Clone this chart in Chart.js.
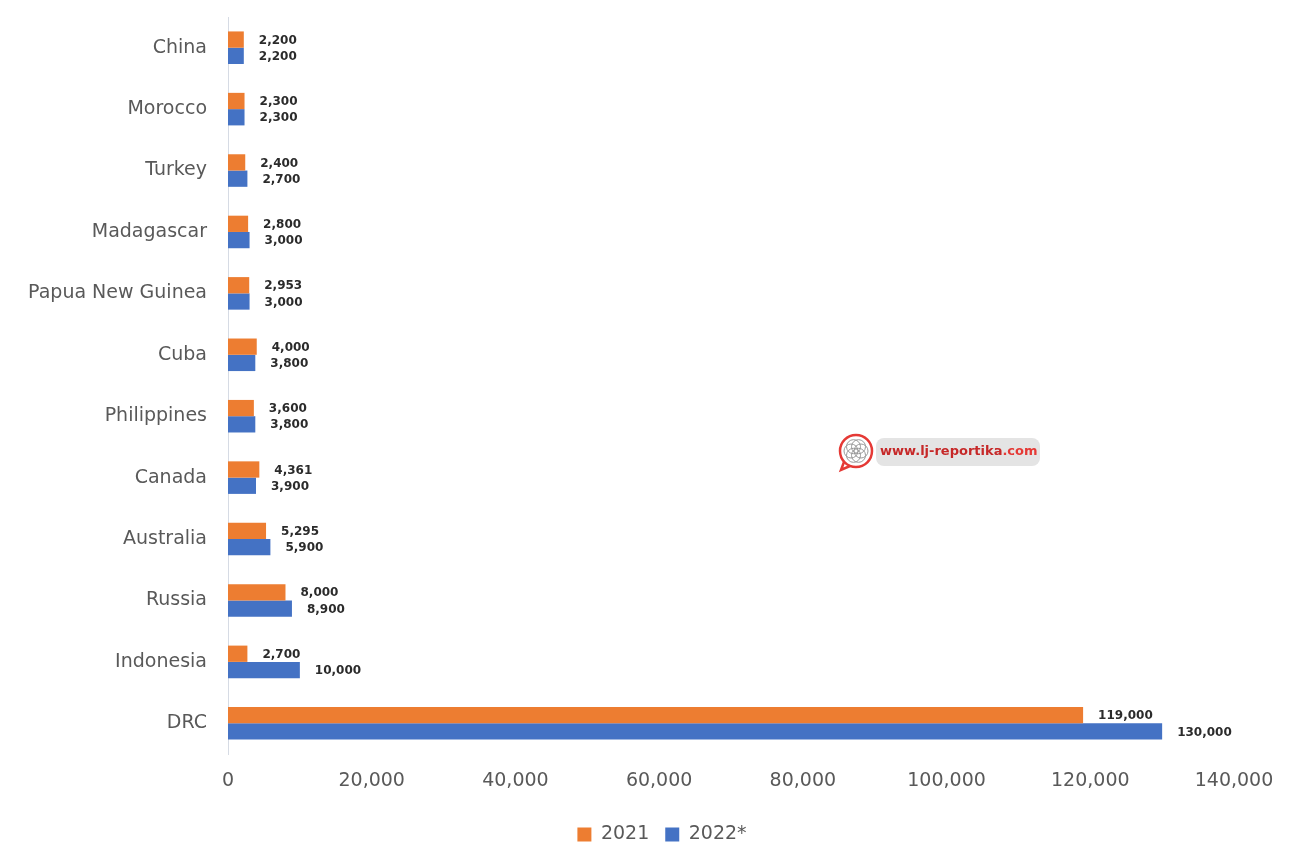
<!DOCTYPE html>
<html>
<head>
<meta charset="utf-8">
<title>Cobalt production by country</title>
<script src="https://cdn.jsdelivr.net/npm/chart.js@4.4.1/dist/chart.umd.min.js"></script>
<style>
  html, body { margin: 0; padding: 0; background: #fff; }
  #wrap { width: 1308px; height: 868px; }
</style>
</head>
<body>
<div id="wrap"><canvas id="chart" width="1308" height="868"></canvas></div>
<script>
// — data —
const countries = ['China', 'Morocco', 'Turkey', 'Madagascar', 'Papua New Guinea', 'Cuba',
                   'Philippines', 'Canada', 'Australia', 'Russia', 'Indonesia', 'DRC'];
const values2021 = [2200, 2300, 2400, 2800, 2953, 4000, 3600, 4361, 5295, 8000, 2700, 119000];
const values2022 = [2200, 2300, 2700, 3000, 3000, 3800, 3800, 3900, 5900, 8900, 10000, 130000];
const seriesNames = ['2021', '2022*'];
const xTicks = [0, 20000, 40000, 60000, 80000, 100000, 120000, 140000];

const ORANGE = '#ED7D31';
const BLUE   = '#4472C4';
const fmt = v => Number(v).toLocaleString('en-US');

// — value labels next to bar ends —
const valueLabels = {
  id: 'valueLabels',
  afterDatasetsDraw(chart) {
    const ctx = chart.ctx;
    ctx.save();
    ctx.font = 'bold 12px "DejaVu Sans"';
    ctx.fillStyle = '#2b2b2b';
    ctx.textAlign = 'left';
    ctx.textBaseline = 'middle';
    chart.data.datasets.forEach((ds, i) => {
      chart.getDatasetMeta(i).data.forEach((bar, j) => {
        ctx.fillText(fmt(ds.data[j]), bar.x + 15, bar.y + 1);
      });
    });
    ctx.restore();
  }
};

// — nudge legend right so it sits under the plot, not the whole canvas —
const legendShift = {
  id: 'legendShift',
  afterLayout(chart) {
    const lg = chart.legend;
    if (!lg) return;
    lg.left += 45;
    lg.right += 45;
  }
};

// — watermark —
const watermark = {
  id: 'watermark',
  afterDraw(chart) {
    const ctx = chart.ctx;
    ctx.save();
    // grey pill
    ctx.fillStyle = '#e4e4e4';
    ctx.beginPath();
    ctx.roundRect(876, 438, 164, 28, 8);
    ctx.fill();
    // logo ring
    ctx.strokeStyle = '#e53935';
    ctx.lineWidth = 2.5;
    ctx.beginPath();
    ctx.arc(856, 451, 16, 0, Math.PI * 2);
    ctx.stroke();
    ctx.beginPath();
    ctx.moveTo(844, 462);
    ctx.lineTo(841, 470);
    ctx.lineTo(850, 466);
    ctx.stroke();
    ctx.strokeStyle = '#9a9a9a';
    ctx.lineWidth = 1;
    for (let k = 0; k < 6; k++) {
      const a = k * Math.PI / 3;
      ctx.beginPath();
      ctx.arc(856 + Math.cos(a) * 5, 451 + Math.sin(a) * 5, 7, 0, Math.PI * 2);
      ctx.stroke();
    }
    // text
    ctx.font = 'bold 13px "DejaVu Sans"';
    ctx.textBaseline = 'middle';
    ctx.textAlign = 'left';
    ctx.fillStyle = '#c62828';
    const t1 = 'www.lj-reportika';
    ctx.fillText(t1, 880, 452);
    ctx.fillStyle = '#e53935';
    ctx.fillText('.com', 880 + ctx.measureText(t1).width, 452);
    ctx.restore();
  }
};

// — chart —
const ctx = document.getElementById('chart').getContext('2d');
const chart = new Chart(ctx, {
  type: 'bar',
  data: {
    labels: countries,
    datasets: [
      { label: seriesNames[0], data: values2021, backgroundColor: ORANGE },
      { label: seriesNames[1], data: values2022, backgroundColor: BLUE }
    ]
  },
  options: {
    indexAxis: 'y',
    responsive: false,
    animation: false,
    categoryPercentage: 0.53,
    barPercentage: 1.0,
    layout: { padding: { top: 17, right: 74, bottom: 14, left: 0 } },
    scales: {
      x: {
        min: 0,
        max: 140000,
        grid: { display: false, drawTicks: false },
        border: { display: false },
        afterBuildTicks: axis => { axis.ticks = xTicks.map(v => ({ value: v })); },
        afterFit: axis => { axis.height = 55; },
        ticks: {
          padding: 16,
          color: '#595959',
          font: { family: 'DejaVu Sans', size: 19 },
          callback: v => fmt(v)
        }
      },
      y: {
        grid: { display: false, drawTicks: false },
        border: { display: true, color: '#d6dbe4', width: 1 },
        afterFit: axis => {
          axis.width = 228;
          axis.paddingTop = 0;
          axis.paddingBottom = 0;
        },
        ticks: {
          padding: 21,
          color: '#595959',
          font: { family: 'DejaVu Sans', size: 19 }
        }
      }
    },
    plugins: {
      legend: {
        position: 'bottom',
        labels: {
          boxWidth: 14,
          boxHeight: 14,
          padding: 16,
          color: '#595959',
          font: { family: 'DejaVu Sans', size: 19 }
        }
      },
      tooltip: { enabled: false }
    }
  },
  plugins: [valueLabels, legendShift, watermark]
});
</script>
</body>
</html>
